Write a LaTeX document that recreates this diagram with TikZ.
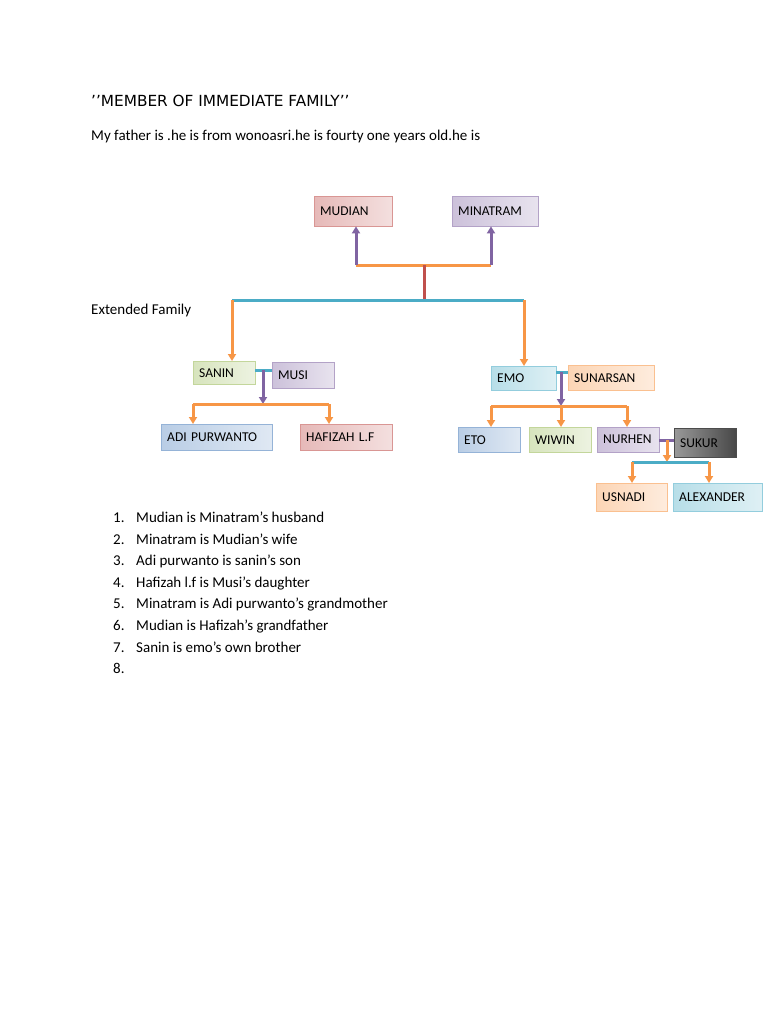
\documentclass[tikz,border=0pt]{standalone}
\usepackage{fontspec}
\setmainfont{Carlito}
\newfontfamily\titlefont{DejaVu Sans}
\usetikzlibrary{arrows.meta}

% line colours
\definecolor{lnOrange}{HTML}{F79646}
\definecolor{lnPurple}{HTML}{8064A2}
\definecolor{lnBlue}{HTML}{4BACC6}
\definecolor{lnRed}{HTML}{C0504D}
% box colours
\definecolor{fRed}{HTML}{E6B9B8}
\definecolor{bRed}{HTML}{D99694}
\definecolor{fPurple}{HTML}{CCC1DA}
\definecolor{bPurple}{HTML}{B3A2C7}
\definecolor{fGreen}{HTML}{D7E4BD}
\definecolor{bGreen}{HTML}{C3D69B}
\definecolor{fBlue}{HTML}{B9CDE5}
\definecolor{bBlue}{HTML}{95B3D7}
\definecolor{fCyan}{HTML}{B7DEE8}
\definecolor{bCyan}{HTML}{93CDDD}
\definecolor{fOrange}{HTML}{FCD5B5}
\definecolor{bOrange}{HTML}{FAC090}

\begin{document}
\begin{tikzpicture}[
  x=1pt,
  y=-1pt,
  txt/.style={anchor=west, inner sep=0pt, font=\fontsize{15}{18}\selectfont},
  mem/.style={draw, anchor=north west, inner sep=0pt, inner xsep=6pt, minimum height=26pt,
    align=left, font=\fontsize{13.5}{16}\selectfont},
  redbox/.style={mem, draw=bRed, left color=fRed, right color=fRed!45},
  purbox/.style={mem, draw=bPurple, left color=fPurple, right color=fPurple!45},
  grnbox/.style={mem, draw=bGreen, left color=fGreen, right color=fGreen!45},
  blubox/.style={mem, draw=bBlue, left color=fBlue, right color=fBlue!45},
  cyabox/.style={mem, draw=bCyan, left color=fCyan, right color=fCyan!45},
  orabox/.style={mem, draw=bOrange, left color=fOrange, right color=fOrange!45},
  grybox/.style={mem, draw=black!70, left color=black!40, right color=black!72},
  ln/.style={line width=3pt},
  tip/.style={-{Triangle[length=7pt,width=8pt]}},
  oline/.style={ln, lnOrange},
  bline/.style={ln, lnBlue},
  pline/.style={ln, lnPurple},
  rline/.style={ln, lnRed},
  oarr/.style={oline, tip},
  parr/.style={pline, tip}
]
\fill[white] (0,0) rectangle (768,1024);
\useasboundingbox (0,0) rectangle (768,1024);

% texts
\node[txt, font=\titlefont\fontsize{15.3}{18}\selectfont] (title) at (91,101) {’’MEMBER OF IMMEDIATE FAMILY’’};
\node[txt] (intro) at (91,137) {My father is .he is from wonoasri.he is fourty one years old.he is};
\node[txt] (ext) at (91,310) {Extended Family};

% grandparents
\node[redbox, text width=66pt, minimum height=30pt] (mudian) at (314,196) {MUDIAN};
\node[purbox, text width=74pt, minimum height=30pt] (minatram) at (452,196) {MINATRAM};

% children
\node[grnbox, text width=50pt, minimum height=23pt] (sanin) at (193,361) {SANIN};
\node[purbox, text width=50pt] (musi) at (272,362) {MUSI};
\node[cyabox, text width=53pt, minimum height=24pt] (emo) at (491,366) {EMO};
\node[orabox, text width=74pt, minimum height=25pt] (sunarsan) at (568,365) {SUNARSAN};

% grandchildren
\node[blubox, text width=99pt] (adi) at (161,424) {ADI PURWANTO};
\node[redbox, text width=80pt] (hafizah) at (300,424) {HAFIZAH L.F};
\node[blubox, text width=50pt, minimum height=25pt] (eto) at (458,427) {ETO};
\node[grnbox, text width=50pt, minimum height=25pt] (wiwin) at (529,427) {WIWIN};
\node[purbox, text width=50pt, minimum height=25pt] (nurhen) at (597,427) {NURHEN};
\node[grybox, text width=50pt, minimum height=29pt] (sukur) at (674,428) {SUKUR};
\node[orabox, text width=59pt, minimum height=28pt] (usnadi) at (596,483) {USNADI};
\node[cyabox, text width=77pt, minimum height=28pt] (alexander) at (673,483) {ALEXANDER};

% junctions
\coordinate (pl) at (356,265);
\coordinate (pr) at (491,265);
\coordinate (pm) at (424,265);
\coordinate (bm) at (424,300);
\coordinate (bl) at (232,300);
\coordinate (br) at (524,300);

\coordinate (sm) at (263,370);
\coordinate (sk) at (263,404);
\coordinate (skl) at (193,404);
\coordinate (skr) at (329,404);

\coordinate (em) at (561,372);
\coordinate (ek) at (561,406);
\coordinate (ekl) at (491,406);
\coordinate (ekr) at (627,406);

\coordinate (nm) at (667,440);
\coordinate (nk) at (667,462);
\coordinate (nkl) at (632,462);
\coordinate (nkr) at (709,462);

% top couple
\draw[oline] (pl) -- (pr);
\draw[parr] (pl) -- (pl |- mudian.south);
\draw[parr] (pr) -- (pr |- minatram.south);
\draw[rline] (pm) -- (bm);
\draw[bline] (bl) -- (br);
\draw[oarr] (bl) -- (bl |- sanin.north);
\draw[oarr] (br) -- (br |- emo.north);

% sanin and musi
\draw[bline] (sanin.east |- sm) -- (musi.west |- sm);
\draw[parr] (sm) -- (sk);
\draw[oline] (skl) -- (skr);
\draw[oarr] (skl) -- (skl |- adi.north);
\draw[oarr] (skr) -- (skr |- hafizah.north);

% emo and sunarsan
\draw[bline] (emo.east |- em) -- (sunarsan.west |- em);
\draw[parr] (em) -- (ek);
\draw[oline] (ekl) -- (ekr);
\draw[oarr] (ekl) -- (ekl |- eto.north);
\draw[oarr] (ek) -- (ek |- wiwin.north);
\draw[oarr] (ekr) -- (ekr |- nurhen.north);

% nurhen and sukur
\draw[pline] (nurhen.east |- nm) -- (sukur.west |- nm);
\draw[oarr] (nm) -- (nk);
\draw[bline] (nkl) -- (nkr);
\draw[oarr] (nkl) -- (nkl |- usnadi.north);
\draw[oarr] (nkr) -- (nkr |- alexander.north);

% list
\foreach \txt [count=\k] in {Mudian is Minatram’s husband, Minatram is Mudian’s wife,
    Adi purwanto is sanin’s son, Hafizah l.f is Musi’s daughter,
    Minatram is Adi purwanto’s grandmother, Mudian is Hafizah’s grandfather,
    Sanin is emo’s own brother, {}} {
  \node[txt, anchor=base west] (num\k) at (113,{522.5+(\k-1)*21.6}) {\k.};
  \node[txt, anchor=base west] (item\k) at (136,{522.5+(\k-1)*21.6}) {\txt};
}

\end{tikzpicture}
\end{document}
